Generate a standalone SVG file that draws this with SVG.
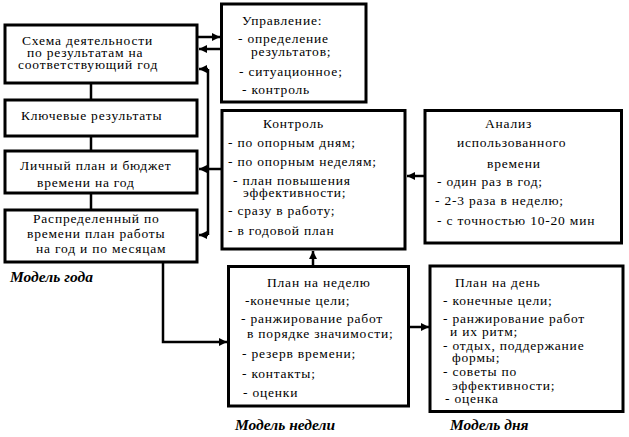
<svg xmlns="http://www.w3.org/2000/svg" width="629" height="437" viewBox="0 0 629 437">
<style>
.box{fill:#fff;stroke:#000;stroke-width:3}
.t{font-family:'Liberation Serif','DejaVu Serif',serif;font-size:13.5px;letter-spacing:0.8px;fill:#000}
.cap{font-family:'Liberation Serif','DejaVu Serif',serif;font-size:15.5px;font-weight:bold;font-style:italic;fill:#000}
.ln{fill:none;stroke:#000;stroke-width:2.5}
.ar{fill:none;stroke:#000;stroke-width:2.5;marker-end:url(#ah)}
</style>
<defs>
<marker id="ah" markerUnits="userSpaceOnUse" markerWidth="9" markerHeight="8" refX="8" refY="4" orient="auto">
<path d="M0,0 L8,4 L0,8 Z" fill="#000"/>
</marker>
</defs>
<rect width="629" height="437" fill="#fff"/>
<g id="connectors">
<line class="ln" x1="91" y1="83" x2="91" y2="100"/>
<line class="ln" x1="91" y1="136" x2="91" y2="151"/>
<line class="ln" x1="91" y1="193" x2="91" y2="210"/>
<line class="ar" x1="198" y1="37" x2="220" y2="37"/>
<line class="ar" x1="221" y1="49" x2="199" y2="49"/>
<polyline class="ln" points="208,69 208,235"/>
<line class="ar" x1="208" y1="69" x2="199" y2="69"/>
<line class="ar" x1="208" y1="235" x2="199" y2="235"/>
<line class="ar" x1="222" y1="169" x2="199" y2="169"/>
<line class="ar" x1="425" y1="176" x2="407" y2="176"/>
<line class="ar" x1="313" y1="266" x2="313" y2="251"/>
<polyline class="ar" points="163,262 163,342 227,342"/>
<line class="ar" x1="409" y1="327" x2="429" y2="327"/>
</g>
<g id="n-schema">
<rect class="box" x="5" y="25" width="192" height="58"/>
<text class="t" x="22" y="45">Схема деятельности</text>
<text class="t" x="27" y="57">по результатам на</text>
<text class="t" x="18" y="69">соответствующий год</text>
</g>
<g id="n-key">
<rect class="box" x="5" y="100" width="192" height="36"/>
<text class="t" x="21" y="120">Ключевые результаты</text>
</g>
<g id="n-personal">
<rect class="box" x="5" y="151" width="192" height="42"/>
<text class="t" x="20" y="170">Личный план и бюджет</text>
<text class="t" x="37" y="187">времени на год</text>
</g>
<g id="n-distributed">
<rect class="box" x="5" y="210" width="192" height="52"/>
<text class="t" x="33" y="223">Распределенный по</text>
<text class="t" x="27" y="238">времени план работы</text>
<text class="t" x="36" y="253">на год и по месяцам</text>
</g>
<g id="n-management">
<rect class="box" x="221.5" y="4" width="144.5" height="98"/>
<text class="t" x="242" y="25">Управление:</text>
<text class="t" x="238" y="43">-  определение</text>
<text class="t" x="251" y="56">результатов;</text>
<text class="t" x="239" y="76">- ситуационное;</text>
<text class="t" x="242" y="94">- контроль</text>
</g>
<g id="n-control">
<rect class="box" x="222" y="110.5" width="183" height="138.5"/>
<text class="t" x="263" y="128">Контроль</text>
<text class="t" x="228" y="147">- по опорным дням;</text>
<text class="t" x="228" y="166">- по опорным неделям;</text>
<text class="t" x="233" y="185">- план повышения</text>
<text class="t" x="243" y="197">эффективности;</text>
<text class="t" x="228" y="215">- сразу в работу;</text>
<text class="t" x="228" y="235">- в годовой план</text>
</g>
<g id="n-analysis">
<rect class="box" x="425" y="110.5" width="196.5" height="132.5"/>
<text class="t" x="485" y="128">Анализ</text>
<text class="t" x="457" y="147">использованного</text>
<text class="t" x="487" y="168">времени</text>
<text class="t" x="437" y="186">- один раз в год;</text>
<text class="t" x="435" y="205">- 2-3 раза в неделю;</text>
<text class="t" x="437" y="225">- с точностью 10-20 мин</text>
</g>
<g id="n-week">
<rect class="box" x="228.5" y="266.5" width="180" height="139.5"/>
<text class="t" x="267" y="287">План на неделю</text>
<text class="t" x="245" y="305">-конечные цели;</text>
<text class="t" x="241" y="323">- ранжирование работ</text>
<text class="t" x="247" y="338">в порядке значимости;</text>
<text class="t" x="242" y="358">- резерв времени;</text>
<text class="t" x="242" y="378">- контакты;</text>
<text class="t" x="243" y="397">- оценки</text>
</g>
<g id="n-day">
<rect class="box" x="430" y="266" width="193" height="145.5"/>
<text class="t" x="455" y="287">План на день</text>
<text class="t" x="443" y="305">- конечные цели;</text>
<text class="t" x="443" y="323">- ранжирование работ</text>
<text class="t" x="450" y="336">и их ритм;</text>
<text class="t" x="443" y="350">- отдых, поддержание</text>
<text class="t" x="452" y="362">формы;</text>
<text class="t" x="443" y="376">- советы по</text>
<text class="t" x="452" y="390">эффективности;</text>
<text class="t" x="445" y="403">- оценка</text>
</g>
<g id="captions">
<text class="cap" x="10" y="282">Модель года</text>
<text class="cap" x="235" y="430">Модель недели</text>
<text class="cap" x="450" y="430">Модель дня</text>
</g>
</svg>
